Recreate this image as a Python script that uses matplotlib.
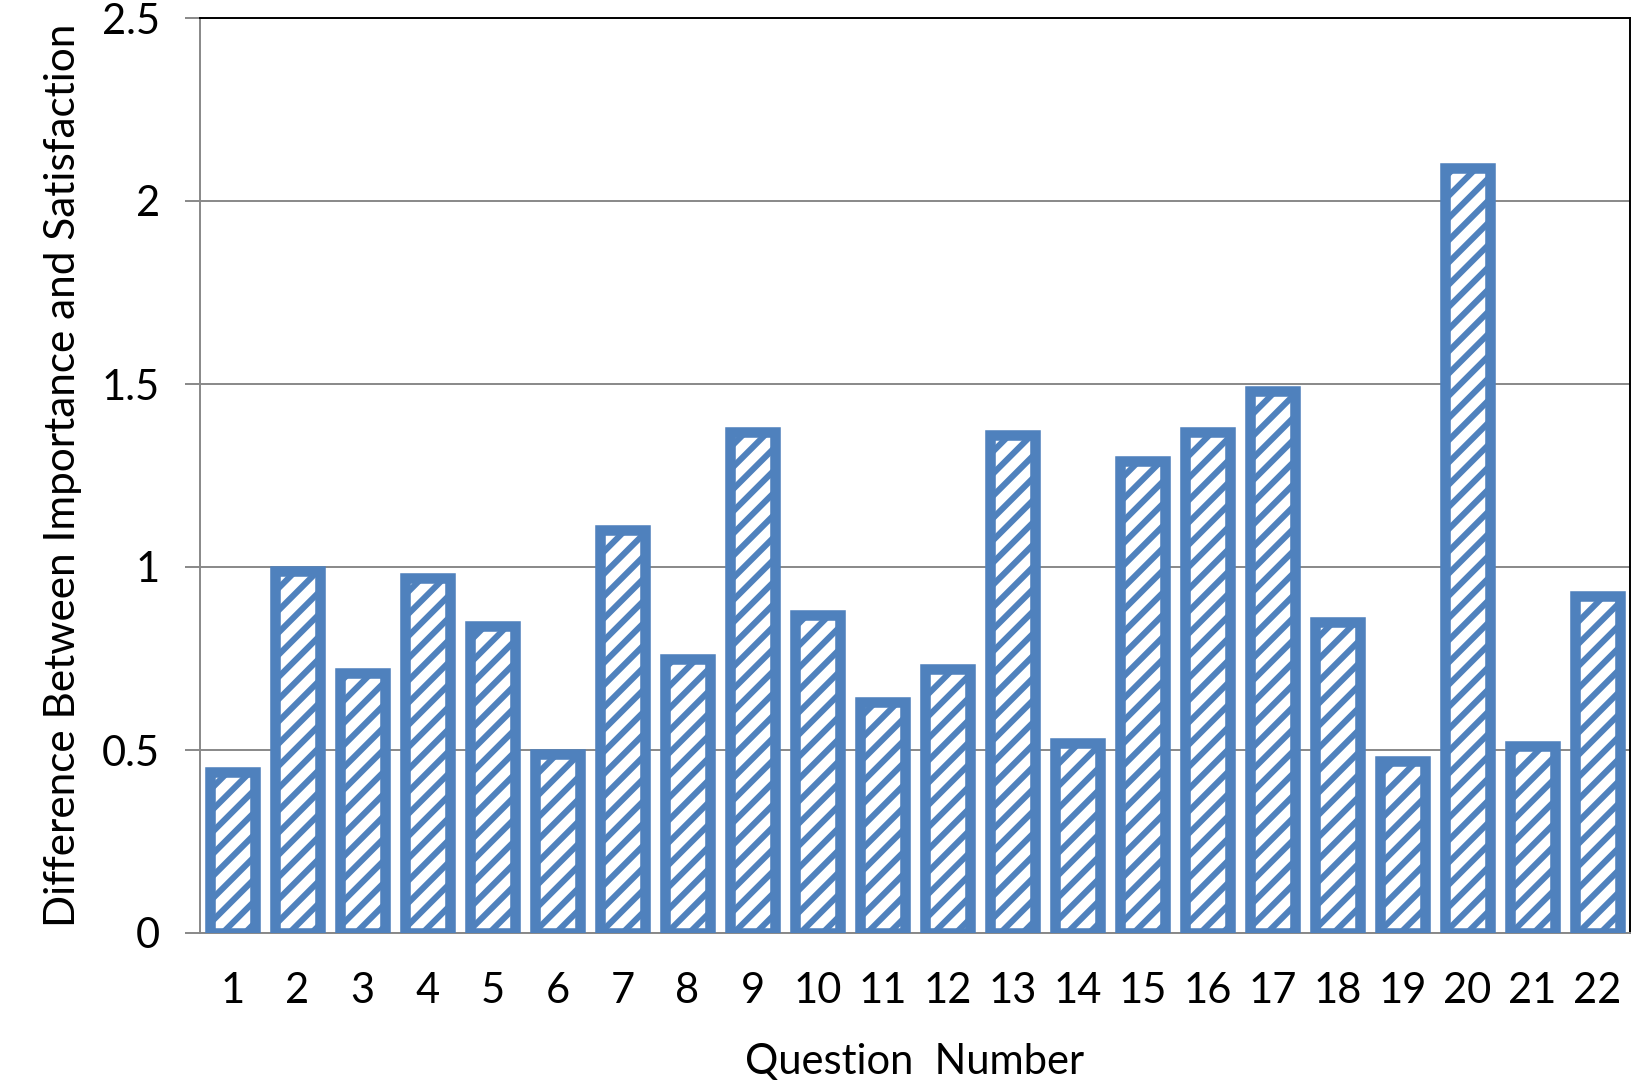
import numpy as np
import matplotlib.pyplot as plt

questions = [str(i) for i in range(1, 23)]
gaps = [0.44, 0.99, 0.71, 0.97, 0.84, 0.49, 1.10, 0.75, 1.37, 0.87, 0.63,
        0.72, 1.36, 0.52, 1.29, 1.37, 1.48, 0.85, 0.47, 2.09, 0.51, 0.92]
yticks = [0, 0.5, 1, 1.5, 2, 2.5]
ytick_labels = ["0", "0.5", "1", "1.5", "2", "2.5"]

blue = "#4F81BD"
grey = "#888888"

plt.rcParams["font.family"] = ["Lato", "DejaVu Sans"]
plt.rcParams["hatch.linewidth"] = 2.2
plt.rcParams["hatch.color"] = blue

fig = plt.figure(figsize=(1639 / 200, 1092 / 200), dpi=200)
ax = fig.add_axes([200 / 1639, 1 - 933 / 1092, 1430 / 1639, 915 / 1092])

x = np.arange(len(questions))
ax.bar(x, gaps, width=0.7, color="white", edgecolor=blue, linewidth=3.8,
       hatch="///", zorder=3)

ax.set_xlim(-0.5, len(questions) - 0.5)
ax.set_ylim(0, 2.5)
ax.set_yticks(yticks)
ax.set_yticklabels(ytick_labels)
ax.set_xticks(x)
ax.set_xticklabels(questions)

ax.yaxis.grid(True, color=grey, linewidth=0.7, zorder=0)
ax.tick_params(axis="y", length=5.5, width=0.7, color=grey, labelsize=15, pad=9)
ax.tick_params(axis="x", length=0, labelsize=15, pad=14)

for side in ["left", "bottom"]:
    ax.spines[side].set_color(grey)
    ax.spines[side].set_linewidth(0.7)
for side in ["top", "right"]:
    ax.spines[side].set_color("black")
    ax.spines[side].set_linewidth(0.7)

ax.set_xlabel("Question  Number", fontsize=15, labelpad=12)
ax.set_ylabel("Difference Between Importance and Satisfaction", fontsize=15.2,
              labelpad=7)

fig.savefig("out.png", dpi=200)
